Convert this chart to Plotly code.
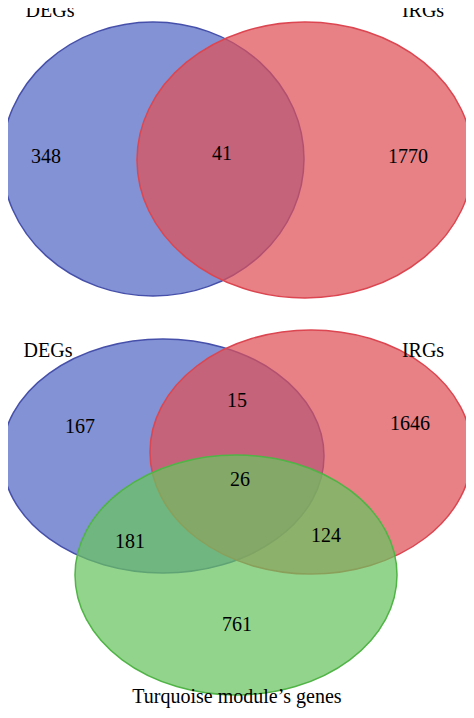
import plotly.graph_objects as go

set_names = ["DEGs", "IRGs"]
counts_two = [348, 41, 1770]
counts_three = [167, 15, 1646, 26, 181, 124, 761]
third_set_name = "Turquoise module\u2019s genes"

fig = go.Figure()
W, H = 474, 718
OFF = 8
blue_fill = "rgba(95,115,200,0.78)"; blue_line = "rgb(70,80,170)"
red_fill = "rgba(222,80,88,0.72)"; red_line = "rgb(220,70,80)"
green_fill = "rgba(105,195,95,0.72)"; green_line = "rgb(80,180,70)"

def ell(cx, cy, rx, ry, fill, line):
    fig.add_shape(type="circle", xref="x", yref="y", x0=cx-rx, x1=cx+rx, y0=cy-ry, y1=cy+ry,
                  fillcolor=fill, line=dict(color=line, width=1.5), layer="below")

ell(153, 159, 151, 137, blue_fill, blue_line)
ell(305, 160, 168, 138, red_fill, red_line)
ell(163, 456, 161, 117, blue_fill, blue_line)
ell(311, 452, 161, 122, red_fill, red_line)
ell(236, 575, 161, 120, green_fill, green_line)

font = dict(family="Liberation Serif", size=20, color="black")
pos2 = [(46, 158), (222, 155), (408, 158)]
pos3 = [(80, 428), (237, 402), (410, 425), (240, 481), (130, 543), (326, 537), (237, 626)]
fig.add_trace(go.Scatter(x=[p[0] for p in pos2], y=[p[1] for p in pos2], mode="text",
                         text=[str(c) for c in counts_two], textfont=font))
fig.add_trace(go.Scatter(x=[p[0] for p in pos3], y=[p[1] for p in pos3], mode="text",
                         text=[str(c) for c in counts_three], textfont=font))
lab_pos = [(50, 12), (423, 12), (48, 352), (423, 352), (237, 698)]
lab_txt = set_names + set_names + [third_set_name]
fig.add_trace(go.Scatter(x=[p[0] for p in lab_pos], y=[p[1] for p in lab_pos], mode="text",
                         text=lab_txt, textfont=font))

fig.update_layout(width=W, height=H, margin=dict(l=0, r=0, t=0, b=0), showlegend=False,
                  plot_bgcolor="white", paper_bgcolor="white",
                  xaxis=dict(range=[OFF, W + OFF], visible=False, fixedrange=True),
                  yaxis=dict(range=[H + OFF, OFF], visible=False, fixedrange=True))
fig.write_html("out.html")
